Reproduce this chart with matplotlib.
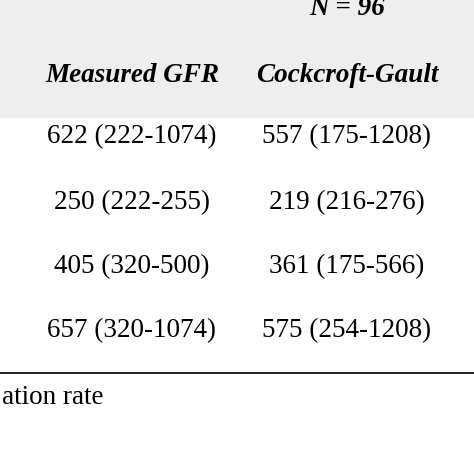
import matplotlib
matplotlib.use("Agg")
import matplotlib.pyplot as plt
from matplotlib.patches import Rectangle

group_label = "N = 96"
headers = ["Measured GFR", "Cockcroft-Gault"]
measured = ["622 (222-1074)", "250 (222-255)", "405 (320-500)", "657 (320-1074)"]
cockcroft = ["557 (175-1208)", "219 (216-276)", "361 (175-566)", "575 (254-1208)"]
footnote = "ation rate"

W = H = 474
fig = plt.figure(figsize=(4.74, 4.74), dpi=100)
ax = fig.add_axes([0, 0, 1, 1])
ax.set_xlim(0, W); ax.set_ylim(H, 0); ax.axis("off")
font = "Liberation Serif"
fs = 19.5

ax.add_patch(Rectangle((0, 0), W, 118, color="#eeeeee", lw=0))
ax.plot([0, W], [373, 373], color="black", lw=1.2)

xs = [132, 347]
ax.text(xs[1], 8, group_label, fontsize=fs, family=font, weight="bold", style="italic", ha="center", va="center")
for x, h in zip(xs, headers):
    ax.text(x, 75, h, fontsize=fs, family=font, weight="bold", style="italic", ha="center", va="center")
rows_y = [137, 203, 267, 331]
for y, a, b in zip(rows_y, measured, cockcroft):
    ax.text(xs[0], y, a, fontsize=fs, family=font, ha="center", va="center")
    ax.text(xs[1], y, b, fontsize=fs, family=font, ha="center", va="center")
ax.text(2, 397, footnote, fontsize=fs, family=font, ha="left", va="center")
fig.savefig("out.png", dpi=100)
